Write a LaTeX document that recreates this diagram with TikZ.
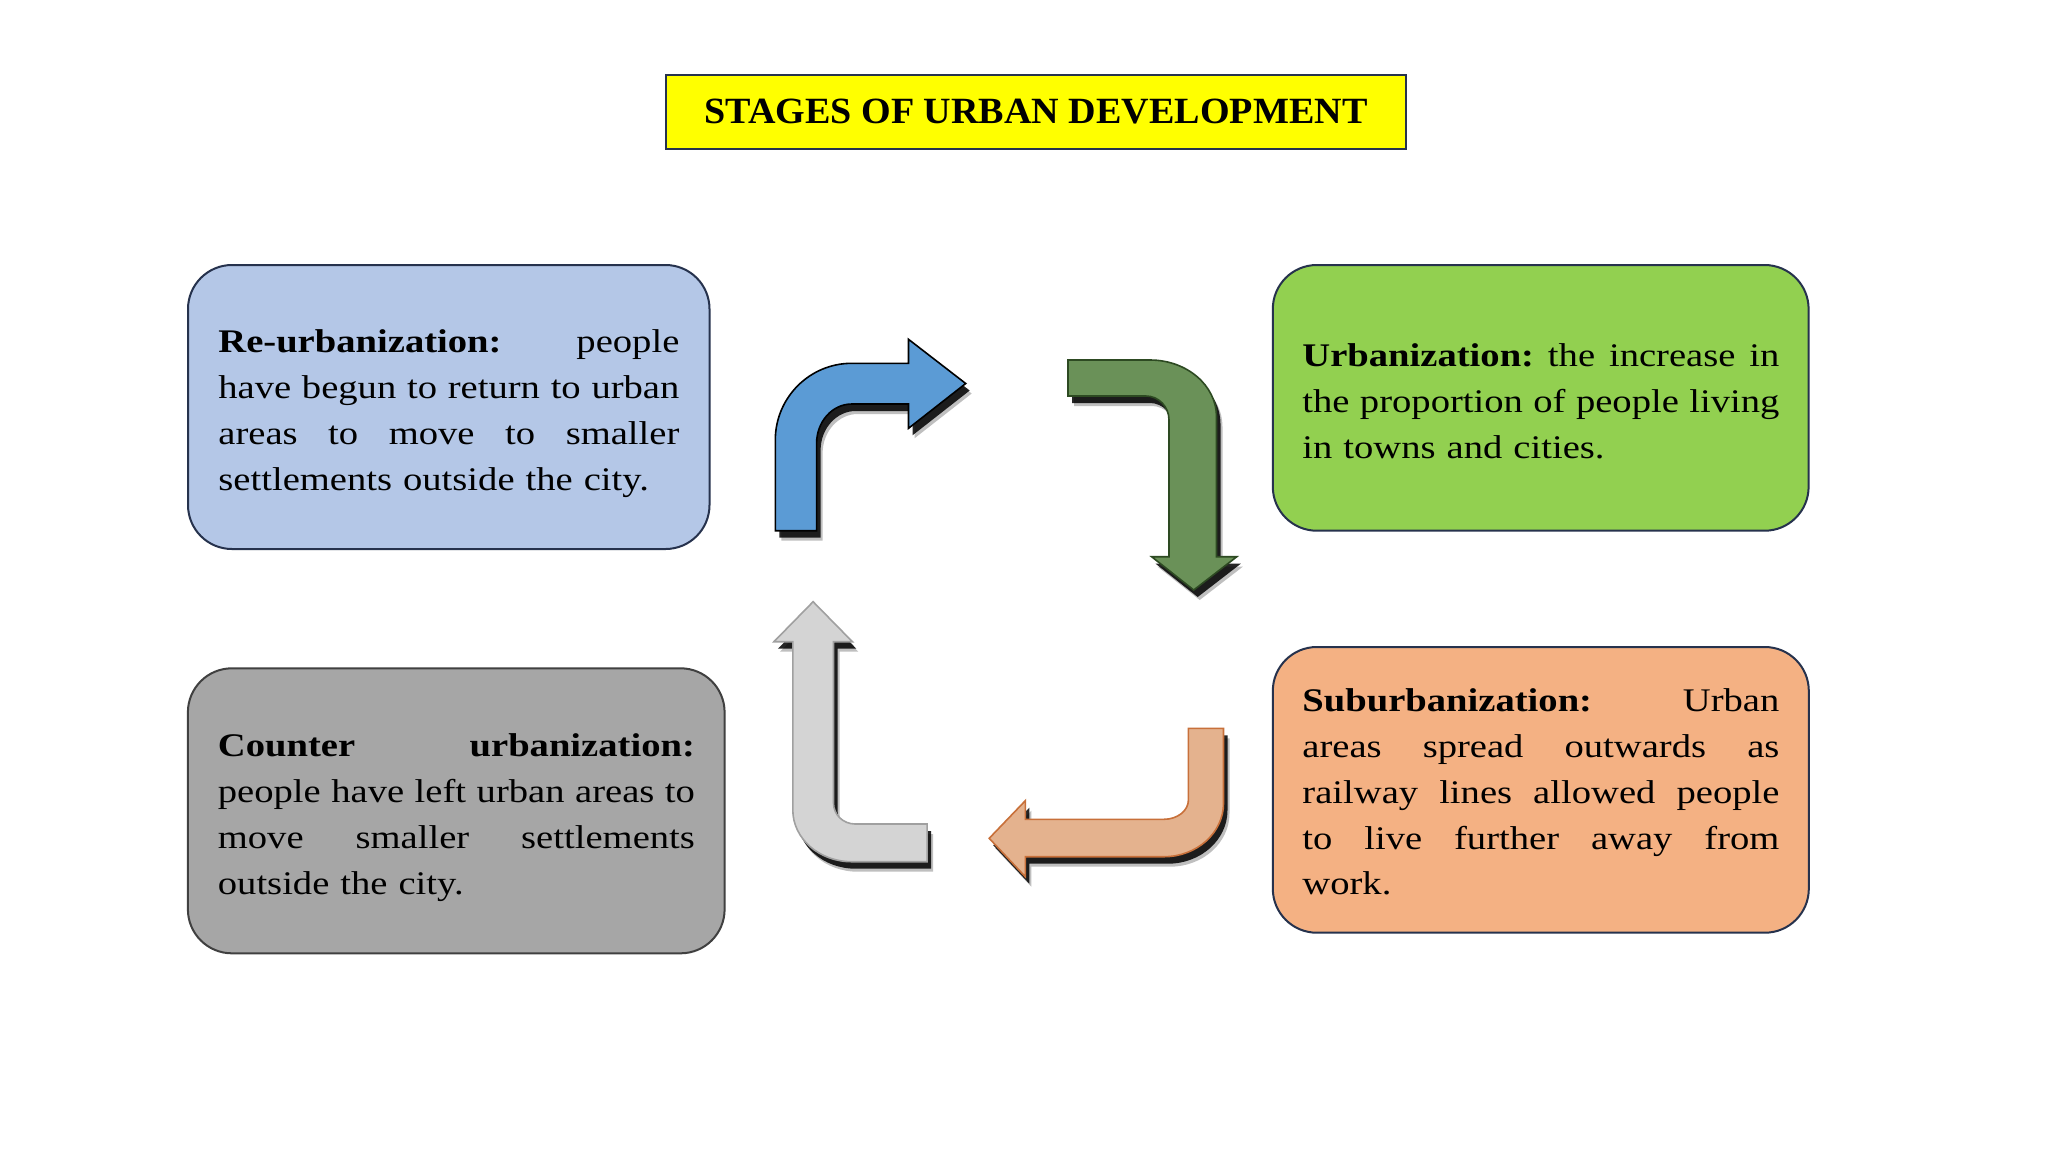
\documentclass[tikz,border=0pt]{standalone}
\usepackage{fontspec}
\setmainfont{Liberation Serif}[FakeStretch=1.17]
\newfontfamily\titlefont{Liberation Serif}[FakeStretch=1.03]
\usetikzlibrary{shadows}
\definecolor{reurbfill}{HTML}{B4C7E7}
\definecolor{urbfill}{HTML}{92D050}
\definecolor{subfill}{HTML}{F4B183}
\definecolor{counterfill}{HTML}{A6A6A6}
\definecolor{boxline}{HTML}{26324D}
\definecolor{grayline}{HTML}{404040}
\definecolor{titlefill}{HTML}{FFFF00}
\definecolor{bluearrowfill}{HTML}{5B9BD5}
\definecolor{greenarrowfill}{HTML}{6A9158}
\definecolor{greenarrowline}{HTML}{2D4A22}
\definecolor{grayarrowfill}{HTML}{D4D4D4}
\definecolor{grayarrowline}{HTML}{A0A0A0}
\definecolor{orangearrowfill}{HTML}{E4B28E}
\definecolor{orangearrowline}{HTML}{C8703A}
\newcommand{\jline}[1]{\noindent\hbox to\hsize{\spaceskip=\fontdimen2\font plus 1fil minus 0.5\fontdimen2\font\relax\xspaceskip=\spaceskip\relax #1}\par}
\newcommand{\lastline}[1]{\noindent\hbox to\hsize{#1\hfil}\par}
\begin{document}
\begin{tikzpicture}[x=0.5pt,y=-0.5pt,
  stagebox/.style={draw=boxline, line width=1pt, rounded corners=22pt, inner sep=0pt},
  stagetext/.style={anchor=base west, inner sep=0pt, font=\fontsize{16.5pt}{22.9pt}\selectfont},
  arrowshadow/.style={
    general shadow={shadow xshift=3pt, shadow yshift=-5pt, fill=black, opacity=0.25},
    general shadow={shadow xshift=2pt, shadow yshift=-3.5pt, fill=black, opacity=0.85}},
  bentarrow/.style={arrowshadow, line width=0.8pt, line join=miter}
]
\useasboundingbox (0,0) rectangle (2048,1152);
\fill[white] (0,0) rectangle (2048,1152);

% title
\node[draw=boxline, line width=1pt, fill=titlefill, minimum width=370pt, minimum height=37pt, inner sep=0pt,
      font=\titlefont\bfseries\fontsize{18.5pt}{22pt}\selectfont] (title) at (1036,112) {STAGES OF URBAN DEVELOPMENT};

% boxes
\node[stagebox, fill=reurbfill, minimum width=260.75pt, minimum height=142pt] (reurb) at (448.75,407) {};
\node[stagebox, fill=urbfill, minimum width=267.9pt, minimum height=132.85pt] (urb) at (1540.7,397.85) {};
\node[stagebox, fill=subfill, minimum width=268pt, minimum height=142.85pt] (sub) at (1540.8,789.85) {};
\node[stagebox, draw=grayline, fill=counterfill, minimum width=268.35pt, minimum height=142.5pt] (counter) at (456.25,810.8) {};

% texts
\node[stagetext, text width=230.5pt] (reurbtxt) at (218,352.7) {%
\jline{\textbf{Re-urbanization:} people}%
\jline{have begun to return to urban}%
\jline{areas to move to smaller}%
\lastline{settlements outside the city.}};

\node[stagetext, text width=238.5pt] (urbtxt) at (1302,366.7) {%
\jline{\textbf{Urbanization:} the increase in}%
\jline{the proportion of people living}%
\lastline{in towns and cities.}};

\node[stagetext, text width=238.5pt] (subtxt) at (1302,711.7) {%
\jline{\textbf{Suburbanization:} Urban}%
\jline{areas spread outwards as}%
\jline{railway lines allowed people}%
\jline{to live further away from}%
\lastline{work.}};

\node[stagetext, text width=238.5pt] (countertxt) at (217.5,756.7) {%
\jline{\textbf{Counter urbanization:}}%
\jline{people have left urban areas to}%
\jline{move smaller settlements}%
\lastline{outside the city.}};

% blue arrow (up then right)
\draw[bentarrow, fill=bluearrowfill, draw=black]
  (775.3,530.7) -- (775.3,440) .. controls (775.3,397.7) and (809.5,363.3) .. (851.7,363.3)
  -- (908.5,363.3) -- (908.5,339.3) -- (965.7,383.5) -- (908.5,428.3) -- (908.5,404)
  -- (851.7,404) .. controls (832.3,404) and (816.6,421.6) .. (816.6,443.3)
  -- (816.6,530.7) -- cycle;

% green arrow (right then down)
\draw[bentarrow, fill=greenarrowfill, draw=greenarrowline]
  (1068,360) -- (1150,360) .. controls (1186.7,360) and (1216.5,385.4) .. (1216.5,416.7)
  -- (1216.5,556.7) -- (1236.8,556.7) -- (1193.7,590) -- (1151.6,556.7) -- (1169,556.7)
  -- (1169,420) .. controls (1169,406.8) and (1158.7,396) .. (1146,396)
  -- (1068,396) -- cycle;

% orange arrow (down then left)
\draw[bentarrow, fill=orangearrowfill, draw=orangearrowline]
  (1188.4,728.3) -- (1223.5,728.3) -- (1223.5,803.3) .. controls (1223.5,832.8) and (1196.8,856.7) .. (1163.9,856.7)
  -- (1025.3,856.7) -- (1025.3,876.7) -- (989.2,838.3) -- (1025.3,800.7) -- (1025.3,819.3)
  -- (1163.9,819.3) .. controls (1177.4,819.3) and (1188.4,810.7) .. (1188.4,800) -- cycle;

% gray arrow (left then up)
\draw[bentarrow, fill=grayarrowfill, draw=grayarrowline]
  (813.1,601.7) -- (852.4,641.7) -- (833.5,641.7) -- (833.5,803.3)
  .. controls (833.5,814.7) and (843.2,824) .. (855.2,824)
  -- (927.1,824) -- (927.1,861.7) -- (851.7,861.7)
  .. controls (819.2,861.7) and (792.8,838.5) .. (792.8,810)
  -- (792.8,641.7) -- (773.9,641.7) -- cycle;
\end{tikzpicture}
\end{document}
